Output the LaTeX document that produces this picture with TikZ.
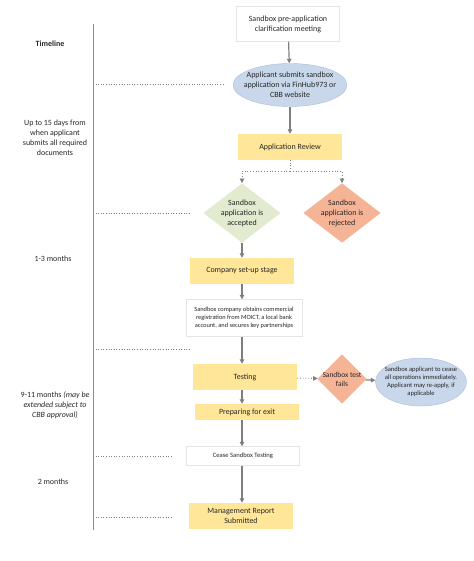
\documentclass[tikz,border=0pt]{standalone}
\usepackage{fontspec}
\setmainfont{Carlito}
\usetikzlibrary{shapes.geometric,arrows.meta}
\definecolor{stepyellow}{HTML}{FFE699}
\definecolor{okgreen}{HTML}{E2EBD0}
\definecolor{nosalmon}{HTML}{F6B497}
\definecolor{ovalblue}{HTML}{C9D7EB}
\definecolor{ovalline}{HTML}{A9BCDC}
\definecolor{linegray}{HTML}{7F7F7F}
\definecolor{textgray}{HTML}{262626}
\def\bigfont{\fontsize{8}{10}\selectfont}
\def\smallfont{\fontsize{6.4}{8}\selectfont}
\tikzset{
  stepbox/.style={fill=stepyellow, minimum width=104bp, minimum height=26bp, inner sep=1bp, align=center, font=\bigfont, text=textgray},
  notebox/.style={fill=white, draw=black!10, minimum height=26bp, inner sep=1bp, align=center, text=textgray},
  oval/.style={ellipse, fill=ovalblue, draw=ovalline, line width=.4bp, inner sep=0bp, align=center, text=textgray},
  choice/.style={diamond, inner sep=0bp, shape aspect=1.3, align=center, font=\bigfont, text=textgray},
  flow/.style={draw=linegray, line width=1.2bp, -{Triangle[length=4.5bp,width=4.5bp]}},
  dotflow/.style={draw=linegray, line width=.8bp, dotted, -{Triangle[length=4.5bp,width=4.5bp]}},
  guide/.style={draw=linegray, line width=.6bp, dotted},
  timetext/.style={align=center, font=\bigfont, text=textgray}
}
\begin{document}
\begin{tikzpicture}[x=1bp,y=-1bp]
\useasboundingbox (0,0) rectangle (474,561);
% timeline column
\draw[linegray!90, line width=1bp] (93,24) -- (93,530);
\foreach \yy/\xend in {84/225,213/190,349/190,456/171,517/172}
  \draw[guide] (93,\yy) -- (\xend,\yy);
\node[timetext, font=\bigfont\bfseries] (tl) at (50,44) {Timeline};
\node[timetext] (t15) at (55,138) {Up to 15 days from\\when applicant\\submits all required\\documents};
\node[timetext] (t13) at (53,259) {1-3 months};
\node[timetext] (t911) at (55,405) {9-11 months \textit{(may be}\\\textit{extended subject to}\\\textit{CBB approval)}};
\node[timetext] (t2) at (53,482) {2 months};
% process
\node[notebox, font=\bigfont, minimum width=103bp, minimum height=35bp] (meet) at (288,24) {Sandbox pre-application\\clarification meeting};
\node[oval, font=\bigfont, inner sep=-6bp, minimum width=110bp, minimum height=43bp] (apply) at (290,85) {Applicant submits sandbox\\application via FinHub973 or\\CBB website};
\node[stepbox] (review) at (290,147) {Application Review};
\node[choice, fill=okgreen] (accept) at (242,213) {Sandbox\\application is\\accepted};
\node[choice, fill=nosalmon] (reject) at (342,213) {Sandbox\\application is\\rejected};
\node[stepbox] (setup) at (242,271) {Company set-up stage};
\node[notebox, font=\smallfont, minimum width=116bp, minimum height=37bp] (reg) at (244,318) {Sandbox company obtains commercial\\registration from MOICT, a local bank\\account, and secures key partnerships};
\node[stepbox] (test) at (245,377) {Testing};
\node[choice, fill=nosalmon, shape aspect=1, inner sep=-1bp, minimum size=48bp, font=\fontsize{7.5}{9}\selectfont] (fails) at (342,379) {Sandbox test\\fails};
\node[oval, font=\fontsize{6.6}{8}\selectfont, inner sep=-4bp, minimum width=88bp, minimum height=48bp] (cease) at (421,382) {Sandbox applicant to cease\\all operations immediately.\\Applicant may re-apply, if\\applicable};
\node[stepbox, minimum height=16bp] (exit) at (247,412) {Preparing for exit};
\node[notebox, font=\fontsize{6.6}{8}\selectfont, minimum width=113bp, minimum height=19bp] (stop) at (243,456) {Cease Sandbox Testing};
\node[stepbox] (report) at (241,516) {Management Report\\Submitted};
% connectors
\path (review.south) ++(0,11) coordinate (fork);
\draw[flow] (meet) -- (apply);
\draw[flow] (apply) -- (review);
\draw[guide, line width=.8bp] (review.south) -- (fork);
\draw[dotflow] (fork) -| (accept.north);
\draw[dotflow] (fork) -| (reject.north);
\draw[flow] (accept) -- (accept |- setup.north);
\draw[flow] (setup) -- (setup |- reg.north);
\draw[flow] (reg.south -| setup) -- (setup |- test.north);
\draw[dotflow] (test) -- (fails);
\draw[flow] (fails) -- (cease);
\draw[flow] (test.south -| setup) -- (setup |- exit.north);
\draw[flow] (exit.south -| setup) -- (setup |- stop.north);
\draw[flow] (stop.south -| setup) -- (setup |- report.north);
\end{tikzpicture}
\end{document}
